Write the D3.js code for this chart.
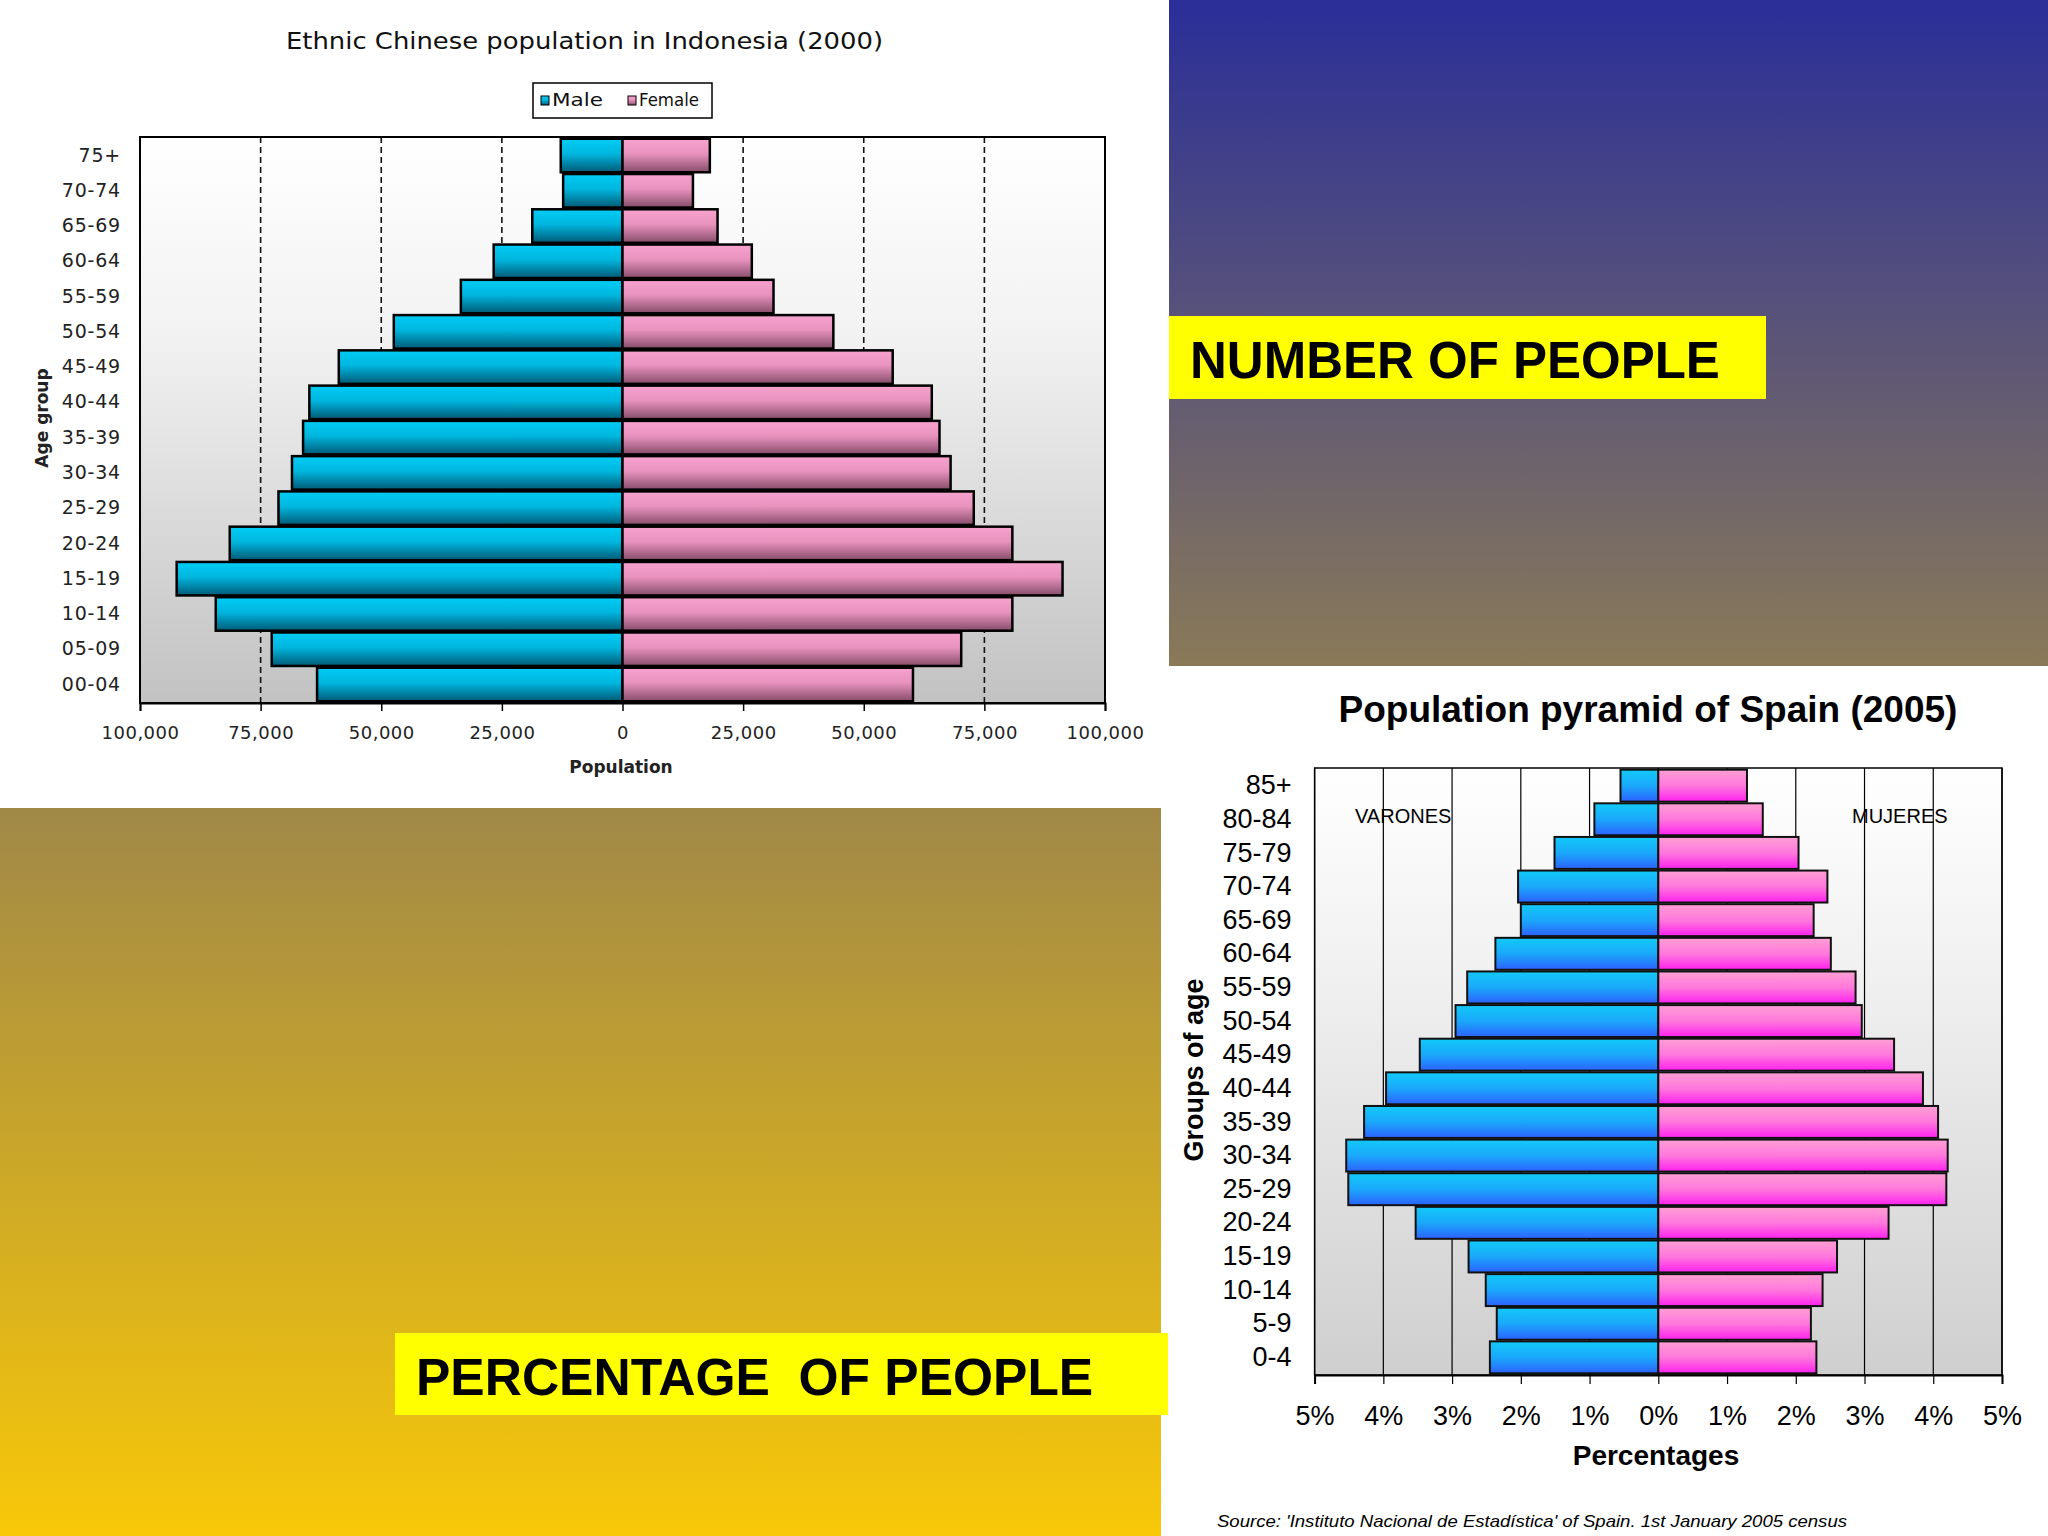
<!DOCTYPE html>
<html>
<head>
<meta charset="utf-8">
<script src="https://cdnjs.cloudflare.com/ajax/libs/d3/7.8.5/d3.min.js"></script>
<style>
  body { margin: 0; background: #fff; }
  svg { display: block; }
</style>
</head>
<body>
<svg id="slide" width="2048" height="1536"></svg>
<script>
// Indonesia (2000) - ethnic Chinese population, top to bottom
const indoAges = ["75+", "70-74", "65-69", "60-64", "55-59", "50-54", "45-49", "40-44",
  "35-39", "30-34", "25-29", "20-24", "15-19", "10-14", "05-09", "00-04"];
const indoMale = [12800, 12300, 18700, 26700, 33500, 47400, 58800, 64900,
  66200, 68500, 71300, 81400, 92400, 84300, 72700, 63300];
const indoFemale = [18100, 14600, 19700, 26800, 31300, 43700, 56000, 64100,
  65700, 68000, 72800, 80800, 91200, 80800, 70200, 60200];
const indoTicks = [-100000, -75000, -50000, -25000, 0, 25000, 50000, 75000, 100000];
const indoGrid = [-75000, -50000, -25000, 25000, 50000, 75000];

// Spain (2005) - percentages, top to bottom
const spainAges = ["85+", "80-84", "75-79", "70-74", "65-69", "60-64", "55-59", "50-54", "45-49",
  "40-44", "35-39", "30-34", "25-29", "20-24", "15-19", "10-14", "5-9", "0-4"];
const spainMale = [0.55, 0.93, 1.51, 2.04, 2.00, 2.37, 2.78, 2.95, 3.47,
  3.96, 4.28, 4.54, 4.51, 3.53, 2.76, 2.51, 2.35, 2.45];
const spainFemale = [1.29, 1.52, 2.04, 2.46, 2.26, 2.51, 2.87, 2.96, 3.43,
  3.85, 4.07, 4.21, 4.19, 3.35, 2.60, 2.39, 2.22, 2.30];
const spainTicks = [-5, -4, -3, -2, -1, 0, 1, 2, 3, 4, 5];

const svg = d3.select('#slide');
const defs = svg.append('defs');

function vGradient(id, stops, units) {
  const g = defs.append('linearGradient')
    .attr('id', id)
    .attr('x1', 0).attr('y1', 0).attr('x2', 0).attr('y2', 1);
  if (units) {
    g.attr('gradientUnits', 'userSpaceOnUse')
      .attr('y1', units[0]).attr('y2', units[1]);
  }
  stops.forEach(s => g.append('stop').attr('offset', s[0]).attr('stop-color', s[1]));
}

vGradient('bgGrad', [[0, '#2a2e98'], [0.434, '#8a7a58'], [0.526, '#a08848'], [1, '#f8c808']], [0, 1536]);
vGradient('indoPlot', [[0, '#ffffff'], [0.35, '#f2f2f2'], [1, '#c2c2c2']]);
vGradient('indoMale', [[0, '#00cdf6'], [0.45, '#00b6de'], [1, '#005a76']]);
vGradient('indoFemale', [[0, '#f8a2cf'], [0.45, '#e892be'], [1, '#874d6a']]);
vGradient('spainPlot', [[0, '#ffffff'], [0.35, '#f0f0f0'], [1, '#cfcfcf']]);
vGradient('spainMale', [[0, '#12caf8'], [0.5, '#1aa8fa'], [1, '#2c62ff']]);
vGradient('spainFemale', [[0, '#ff9fd4'], [0.5, '#ff78dc'], [1, '#ff22ee']]);

// slide background and chart pictures
svg.append('rect').attr('width', 2048).attr('height', 1536).attr('fill', 'url(#bgGrad)');
svg.append('rect').attr('x', 0).attr('y', 0).attr('width', 1169).attr('height', 808).attr('fill', '#fff');
svg.append('rect').attr('x', 1161).attr('y', 666).attr('width', 887).attr('height', 870).attr('fill', '#fff');

// ---------- Indonesia chart ----------
const indoFont = '"DejaVu Sans", Verdana, sans-serif';
const ix = d3.scaleLinear().domain([-100000, 100000]).range([140, 1105]);
const iy = d3.scaleBand().domain(indoAges).range([137, 703]).padding(0.05);

svg.append('text')
  .attr('x', 286).attr('y', 49)
  .attr('textLength', 597).attr('lengthAdjust', 'spacingAndGlyphs')
  .style('font-family', indoFont).style('font-size', '23px').style('fill', '#111')
  .text('Ethnic Chinese population in Indonesia (2000)');

// legend
const leg = svg.append('g');
leg.append('rect').attr('x', 533).attr('y', 83).attr('width', 179).attr('height', 35)
  .attr('fill', '#fff').attr('stroke', '#000').attr('stroke-width', 1.5);
[['Male', 'url(#indoMale)', 541, 51], ['Female', 'url(#indoFemale)', 628, 60]].forEach(d => {
  leg.append('rect').attr('x', d[2]).attr('y', 96).attr('width', 8).attr('height', 9)
    .attr('fill', d[1]).attr('stroke', '#000').attr('stroke-width', 1);
  leg.append('text').attr('x', d[2] + 11).attr('y', 106)
    .attr('textLength', d[3]).attr('lengthAdjust', 'spacingAndGlyphs')
    .style('font-family', indoFont).style('font-size', '18px').style('fill', '#111')
    .text(d[0]);
});

svg.append('rect').attr('x', 140).attr('y', 137).attr('width', 965).attr('height', 566)
  .attr('fill', 'url(#indoPlot)');

svg.append('g').selectAll('line').data(indoGrid).join('line')
  .attr('x1', d => ix(d)).attr('x2', d => ix(d))
  .attr('y1', 137).attr('y2', 703)
  .attr('stroke', '#111').attr('stroke-width', 1.6).attr('stroke-dasharray', '6,4');

const indoBars = svg.append('g');
indoBars.selectAll('rect.m').data(indoAges).join('rect')
  .attr('class', 'm')
  .attr('x', (d, i) => ix(-indoMale[i]))
  .attr('y', d => iy(d))
  .attr('width', (d, i) => ix(0) - ix(-indoMale[i]))
  .attr('height', iy.bandwidth())
  .attr('fill', 'url(#indoMale)').attr('stroke', '#000').attr('stroke-width', 2.5);
indoBars.selectAll('rect.f').data(indoAges).join('rect')
  .attr('class', 'f')
  .attr('x', ix(0))
  .attr('y', d => iy(d))
  .attr('width', (d, i) => ix(indoFemale[i]) - ix(0))
  .attr('height', iy.bandwidth())
  .attr('fill', 'url(#indoFemale)').attr('stroke', '#000').attr('stroke-width', 2.5);

svg.append('rect').attr('x', 140).attr('y', 137).attr('width', 965).attr('height', 566)
  .attr('fill', 'none').attr('stroke', '#000').attr('stroke-width', 2);

const iyAxis = svg.append('g').attr('transform', 'translate(140,0)')
  .call(d3.axisLeft(iy).tickSize(0).tickPadding(19));
iyAxis.select('.domain').remove();
iyAxis.selectAll('text').style('font-family', indoFont).style('font-size', '19px')
  .style('letter-spacing', '0.8px').style('fill', '#222');

const ixAxis = svg.append('g').attr('transform', 'translate(0,703)')
  .call(d3.axisBottom(ix).tickValues(indoTicks).tickSize(8).tickPadding(15)
    .tickFormat(d => d3.format(',')(Math.abs(d))));
ixAxis.select('.domain').attr('stroke', '#000').attr('stroke-width', 2);
ixAxis.selectAll('.tick line').attr('stroke', '#000').attr('stroke-width', 1.5);
ixAxis.selectAll('text').style('font-family', indoFont).style('font-size', '18px')
  .style('letter-spacing', '0.5px').style('fill', '#222');

svg.append('text').attr('x', 621).attr('y', 773).attr('text-anchor', 'middle')
  .style('font-family', indoFont).style('font-size', '17px').style('font-weight', 'bold').style('fill', '#222')
  .text('Population');
svg.append('text').attr('transform', 'translate(48,418) rotate(-90)').attr('text-anchor', 'middle')
  .style('font-family', indoFont).style('font-size', '17px').style('font-weight', 'bold').style('fill', '#222')
  .text('Age group');

// ---------- Spain chart ----------
const spFont = '"Liberation Sans", Arial, sans-serif';
const sx = d3.scaleLinear().domain([-5, 5]).range([1314.6, 2002]);
const sy = d3.scaleBand().domain(spainAges).range([768, 1375]).padding(0.05);

svg.append('text').attr('x', 1648).attr('y', 722).attr('text-anchor', 'middle')
  .style('font-family', spFont).style('font-size', '37px').style('font-weight', 'bold').style('fill', '#000')
  .text('Population pyramid of Spain (2005)');

svg.append('rect').attr('x', sx(-5)).attr('y', 768).attr('width', sx(5) - sx(-5)).attr('height', 607)
  .attr('fill', 'url(#spainPlot)');

svg.append('g').selectAll('line').data(spainTicks).join('line')
  .attr('x1', d => sx(d)).attr('x2', d => sx(d))
  .attr('y1', 768).attr('y2', 1375)
  .attr('stroke', '#000').attr('stroke-width', 1.2);

svg.append('text').attr('x', 1355).attr('y', 823)
  .style('font-family', spFont).style('font-size', '20px').style('fill', '#000').text('VARONES');
svg.append('text').attr('x', 1852).attr('y', 823)
  .style('font-family', spFont).style('font-size', '20px').style('fill', '#000').text('MUJERES');

const spBars = svg.append('g');
spBars.selectAll('rect.m').data(spainAges).join('rect')
  .attr('class', 'm')
  .attr('x', (d, i) => sx(-spainMale[i]))
  .attr('y', d => sy(d))
  .attr('width', (d, i) => sx(0) - sx(-spainMale[i]))
  .attr('height', sy.bandwidth())
  .attr('fill', 'url(#spainMale)').attr('stroke', '#111').attr('stroke-width', 2);
spBars.selectAll('rect.f').data(spainAges).join('rect')
  .attr('class', 'f')
  .attr('x', sx(0))
  .attr('y', d => sy(d))
  .attr('width', (d, i) => sx(spainFemale[i]) - sx(0))
  .attr('height', sy.bandwidth())
  .attr('fill', 'url(#spainFemale)').attr('stroke', '#111').attr('stroke-width', 2);

svg.append('rect').attr('x', sx(-5)).attr('y', 768).attr('width', sx(5) - sx(-5)).attr('height', 607)
  .attr('fill', 'none').attr('stroke', '#000').attr('stroke-width', 1.5);

const syAxis = svg.append('g').attr('transform', `translate(${sx(-5)},0)`)
  .call(d3.axisLeft(sy).tickSize(0).tickPadding(23));
syAxis.select('.domain').remove();
syAxis.selectAll('text').style('font-family', spFont).style('font-size', '27px').style('fill', '#000');

const sxAxis = svg.append('g').attr('transform', 'translate(0,1375)')
  .call(d3.axisBottom(sx).tickValues(spainTicks).tickSize(9).tickPadding(22)
    .tickFormat(d => Math.abs(d) + '%'));
sxAxis.select('.domain').attr('stroke', '#000').attr('stroke-width', 2);
sxAxis.selectAll('.tick line').attr('stroke', '#000').attr('stroke-width', 1.2);
sxAxis.selectAll('text').style('font-family', spFont).style('font-size', '27px').style('fill', '#000');

svg.append('text').attr('x', 1656).attr('y', 1465).attr('text-anchor', 'middle')
  .style('font-family', spFont).style('font-size', '28px').style('font-weight', 'bold').style('fill', '#000')
  .text('Percentages');
svg.append('text').attr('transform', 'translate(1203,1070) rotate(-90)').attr('text-anchor', 'middle')
  .style('font-family', spFont).style('font-size', '27px').style('font-weight', 'bold').style('fill', '#000')
  .text('Groups of age');
svg.append('text').attr('x', 1217).attr('y', 1527)
  .attr('textLength', 630).attr('lengthAdjust', 'spacingAndGlyphs')
  .style('font-family', spFont).style('font-size', '17px').style('font-style', 'italic').style('fill', '#000')
  .text("Source: 'Instituto Nacional de Estadística' of Spain. 1st January 2005 census");

// ---------- slide captions ----------
svg.append('rect').attr('x', 1169).attr('y', 316).attr('width', 597).attr('height', 83).attr('fill', '#ffff00');
svg.append('text').attr('x', 1190).attr('y', 378)
  .style('font-family', spFont).style('font-size', '51px').style('font-weight', 'bold').style('fill', '#000')
  .text('NUMBER OF PEOPLE');
svg.append('rect').attr('x', 395).attr('y', 1333).attr('width', 773).attr('height', 82).attr('fill', '#ffff00');
svg.append('text').attr('x', 416).attr('y', 1395)
  .style('font-family', spFont).style('font-size', '51.5px').style('font-weight', 'bold').style('fill', '#000')
  .style('white-space', 'pre')
  .text('PERCENTAGE  OF PEOPLE');
</script>
</body>
</html>
